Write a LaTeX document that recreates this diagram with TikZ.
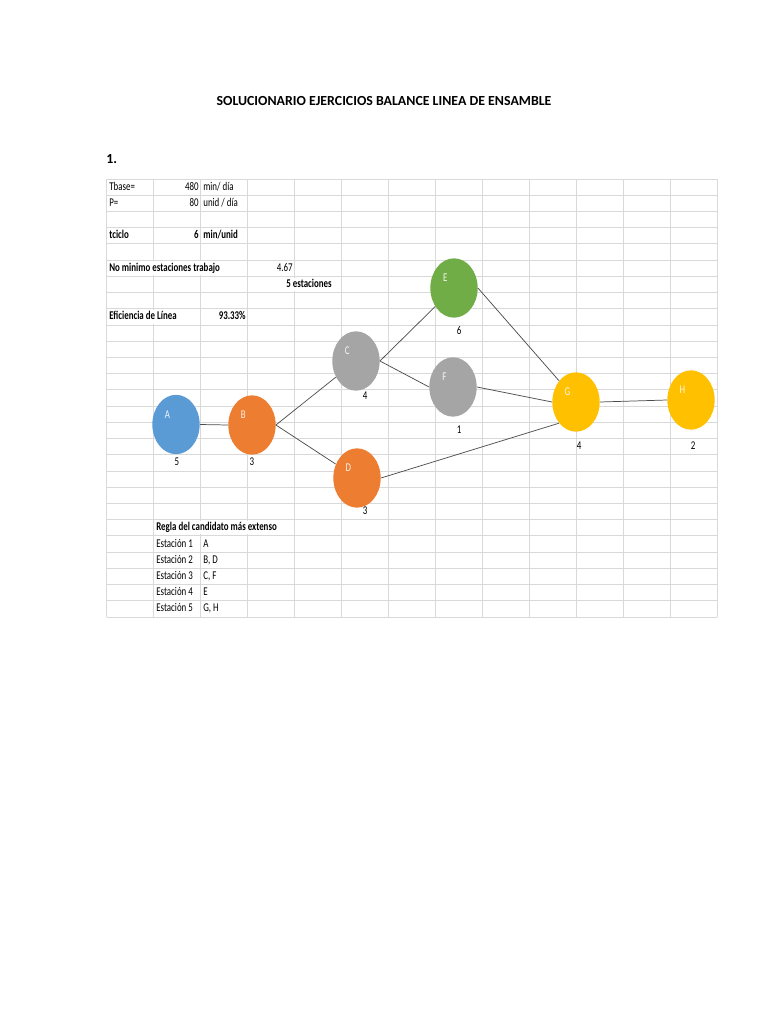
\documentclass[tikz,border=0pt]{standalone}
\usepackage{fontspec}
\setmainfont{Carlito}
\newfontfamily\cellfont{Carlito}[FakeStretch=0.75]
\usetikzlibrary{shapes.geometric}

\definecolor{gridgray}{HTML}{D9D9D9}
\definecolor{blueA}{HTML}{5B9BD5}
\definecolor{orangeB}{HTML}{ED7D31}
\definecolor{grayC}{HTML}{A5A5A5}
\definecolor{greenE}{HTML}{70AD47}
\definecolor{goldG}{HTML}{FFC000}

\tikzset{
    cell/.style={draw=gridgray, line width=0.6pt},
    txt/.style={font=\cellfont\fontsize{8.9}{10}\selectfont, inner sep=0.8pt,
        text height=6.6pt, text depth=1.9pt, anchor=west},
    txtb/.style={txt, font=\cellfont\fontsize{8.9}{10}\selectfont\bfseries},
    hide/.style={fill=white},
    title/.style={font=\fontsize{10.4}{12}\selectfont\bfseries, inner sep=0pt},
    station/.style={ellipse, fill=#1, minimum width=35.5pt, minimum height=44.5pt, inner sep=0pt},
    letter/.style={text=white, text opacity=0.9, inner sep=0pt,
        font=\cellfont\fontsize{8.9}{10}\selectfont, xshift=-6.5pt, yshift=7.5pt},
    weight/.style={font=\cellfont\fontsize{8.9}{10}\selectfont, inner sep=0pt},
    link/.style={draw=black!70, line width=0.55pt}
}

\begin{document}
\begin{tikzpicture}[x=0.75pt, y=-0.75pt]
    \useasboundingbox (0,0) rectangle (768,1024);

    \node[title] (title) at (384,101) {SOLUCIONARIO EJERCICIOS BALANCE LINEA DE ENSAMBLE};
    \node[title, anchor=west] (num) at (106,159) {1.};

    \foreach \i in {0,...,13}
        \draw[cell] (106.7+46.97*\i,179) -- ++(0,438);
    \foreach \j in {0,...,27}
        \draw[cell] (106.7,179+16.22*\j) -- (717.3,179+16.22*\j);

    \node[txt] (tbase) at (108,187.1) {Tbase=};
    \node[txt, anchor=east] (tbaseval) at (200,187.1) {480};
    \node[txt] (tbaseunit) at (202,187.1) {min/ día};
    \node[txt] (p) at (108,203.3) {P=};
    \node[txt, anchor=east] (pval) at (200,203.3) {80};
    \node[txt] (punit) at (202,203.3) {unid / día};

    \node[txtb] (tciclo) at (108,235.8) {tciclo};
    \node[txtb, anchor=east] (tcicloval) at (200,235.8) {6};
    \node[txtb] (tciclounit) at (202,235.8) {min/unid};

    \node[txtb, hide] (nmin) at (108,268.2) {No minimo estaciones trabajo};
    \node[txt, anchor=east] (nminval) at (294,268.2) {4.67};
    \node[txtb, hide, anchor=east] (nest) at (333,284.4) {5 estaciones};

    \node[txtb, hide] (efic) at (108,316.8) {Eficiencia de Línea};
    \node[txtb, anchor=east] (eficval) at (247,316.8) {93.33\%};

    \node[txtb, hide] (regla) at (155,527.7) {Regla del candidato más extenso};
    \node[txt] (est1) at (155,543.9) {Estación 1};
    \node[txt] (set1) at (202,543.9) {A};
    \node[txt] (est2) at (155,560.2) {Estación 2};
    \node[txt] (set2) at (202,560.2) {B, D};
    \node[txt] (est3) at (155,576.4) {Estación 3};
    \node[txt] (set3) at (202,576.4) {C, F};
    \node[txt] (est4) at (155,592.6) {Estación 4};
    \node[txt] (set4) at (202,592.6) {E};
    \node[txt] (est5) at (155,608.8) {Estación 5};
    \node[txt] (set5) at (202,608.8) {G, H};

    \node[station=blueA, label={[letter]center:A}] (A) at (176,424.5) {};
    \node[station=orangeB, label={[letter]center:B}] (B) at (252,425) {};
    \node[station=grayC, label={[letter]center:C}] (C) at (356,361) {};
    \node[station=orangeB, label={[letter]center:D}] (D) at (357,478) {};
    \node[station=greenE, label={[letter]center:E}] (E) at (454,288) {};
    \node[station=grayC, label={[letter]center:F}] (F) at (453,387) {};
    \node[station=goldG, label={[letter]center:G}] (G) at (576,402) {};
    \node[station=goldG, label={[letter]center:H}] (H) at (691,400) {};

    \node[weight] (wA) at (177,462) {5};
    \node[weight] (wB) at (252,462) {3};
    \node[weight] (wC) at (365,396) {4};
    \node[weight] (wD) at (365,511) {3};
    \node[weight] (wE) at (459,331) {6};
    \node[weight] (wF) at (459,430) {1};
    \node[weight] (wG) at (579,446) {4};
    \node[weight] (wH) at (693,446) {2};

    \draw[link] (A.east) -- (B.west);
    \draw[link] (B.east) -- (C);
    \draw[link] (B.east) -- (D);
    \draw[link] (C.east) -- (E);
    \draw[link] (C.east) -- (F.west);
    \draw[link] (E.east) -- (G.north west);
    \draw[link] (F.east) -- (G.west);
    \draw[link] (D.east) -- (G.south west);
    \draw[link] (G.east) -- (H.west);

\end{tikzpicture}
\end{document}
